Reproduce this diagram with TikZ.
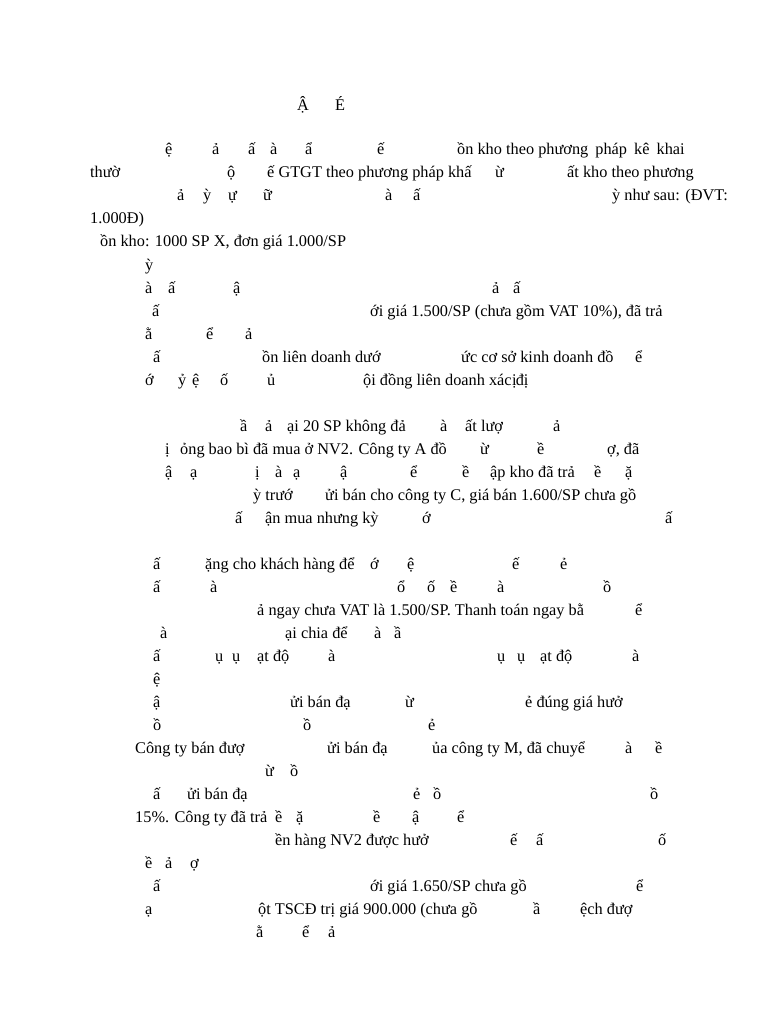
\documentclass[tikz,border=0pt]{standalone}
\usepackage{fontspec}
\setmainfont{Liberation Serif}
\newcommand{\tx}[3]{\node[anchor=base west,inner sep=0pt,font=\fontsize{16.3}{19}\selectfont] at (#1,#2+5) {#3};}
\begin{document}
\begin{tikzpicture}[x=1pt,y=-1pt]
\fill[white] (0,0) rectangle (768,1024);
\useasboundingbox (0,0) rectangle (768,1024);
\tx{297}{106}{Ậ}\tx{335}{106}{É}
\tx{165}{150}{ệ}\tx{212}{150}{ả}\tx{248}{150}{ấ}\tx{270}{150}{à}\tx{305}{150}{ẩ}\tx{377}{150}{ế}\tx{457}{150}{ồn kho theo phương\hspace{3pt} pháp\hspace{3pt} kê\hspace{3pt} khai}
\tx{90}{173}{thườ}\tx{227}{173}{ộ}\tx{267}{173}{ế GTGT theo phương pháp khấ}\tx{495}{173}{ừ}\tx{567}{173}{ất kho theo phương}
\tx{177}{196}{ả}\tx{203}{196}{ỳ}\tx{228}{196}{ự}\tx{263}{196}{ữ}\tx{385}{196}{à}\tx{413}{196}{ấ}\tx{612}{196}{ỳ như sau: (ĐVT:}
\tx{90}{219}{1.000Đ)}
\tx{100}{242}{ồn kho: 1000 SP X, đơn giá 1.000/SP}
\tx{145}{265}{ỳ}
\tx{145}{288}{à}\tx{168}{288}{ấ}\tx{233}{288}{ậ}\tx{492}{288}{ả}\tx{513}{288}{ấ}
\tx{152}{311}{ấ}\tx{370}{311}{ới giá 1.500/SP (chưa gồm VAT 10\%), đã trả}
\tx{145}{334}{ằ}\tx{206}{334}{ể}\tx{245}{334}{ả}
\tx{153}{357}{ấ}\tx{262}{357}{ồn liên doanh dướ}\tx{461}{357}{ức cơ sở kinh doanh đồ}\tx{635}{357}{ể}
\tx{145}{380}{ớ}\tx{178}{380}{ỷ}\tx{192}{380}{ệ}\tx{220}{380}{ố}\tx{267}{380}{ủ}\tx{363}{380}{ội đồng liên doanh xác đị}\tx{512}{380}{ị}
\tx{240}{426}{ầ}\tx{265}{426}{ả}\tx{287}{426}{ại 20 SP không đả}\tx{440}{426}{à}\tx{465}{426}{ất lượ}\tx{553}{426}{ả}
\tx{165}{449}{ị}\tx{180}{449}{ỏng bao bì đã mua ở NV2. Công ty A đồ}\tx{480}{449}{ừ}\tx{537}{449}{ề}\tx{607}{449}{ợ, đã}
\tx{165}{472}{ậ}\tx{190}{472}{ạ}\tx{255}{472}{ị}\tx{275}{472}{à}\tx{293}{472}{ạ}\tx{340}{472}{ậ}\tx{410}{472}{ể}\tx{462}{472}{ề}\tx{490}{472}{ập kho đã trả}\tx{594}{472}{ề}\tx{625}{472}{ặ}
\tx{253}{495}{ỳ trướ}\tx{325}{495}{ửi bán cho công ty C, giá bán 1.600/SP chưa gồ}
\tx{235}{518}{ấ}\tx{265}{518}{ận mua nhưng kỳ}\tx{422}{518}{ớ}\tx{665}{518}{ấ}
\tx{153}{564}{ấ}\tx{205}{564}{ặng cho khách hàng để}\tx{370}{564}{ớ}\tx{407}{564}{ệ}\tx{512}{564}{ế}\tx{560}{564}{ẻ}
\tx{153}{587}{ấ}\tx{210}{587}{à}\tx{397}{587}{ổ}\tx{427}{587}{ố}\tx{450}{587}{ề}\tx{497}{587}{à}\tx{603}{587}{ồ}
\tx{257}{610}{ả ngay chưa VAT là 1.500/SP. Thanh toán ngay bằ}\tx{635}{610}{ể}
\tx{160}{633}{à}\tx{285}{633}{ại chia để}\tx{374}{633}{à}\tx{394}{633}{ầ}
\tx{153}{656}{ấ}\tx{215}{656}{ụ}\tx{232}{656}{ụ}\tx{257}{656}{ạt độ}\tx{328}{656}{à}\tx{497}{656}{ụ}\tx{517}{656}{ụ}\tx{540}{656}{ạt độ}\tx{632}{656}{à}
\tx{153}{679}{ệ}
\tx{153}{702}{ậ}\tx{290}{702}{ửi bán đạ}\tx{405}{702}{ừ}\tx{525}{702}{ẻ đúng giá hưở}
\tx{153}{725}{ồ}\tx{303}{725}{ồ}\tx{428}{725}{ẻ}
\tx{135}{748}{Công ty bán đượ}\tx{327}{748}{ửi bán đạ}\tx{432}{748}{ủa công ty M, đã chuyể}\tx{625}{748}{à}\tx{655}{748}{ề}
\tx{265}{771}{ừ}\tx{290}{771}{ồ}
\tx{153}{794}{ấ}\tx{187}{794}{ửi bán đạ}\tx{413}{794}{ẻ}\tx{433}{794}{ồ}\tx{650}{794}{ồ}
\tx{135}{817}{15\%. Công ty đã trả}\tx{275}{817}{ề}\tx{296}{817}{ặ}\tx{373}{817}{ề}\tx{412}{817}{ậ}\tx{457}{817}{ể}
\tx{275}{840}{ền hàng NV2 được hưở}\tx{510}{840}{ế}\tx{536}{840}{ấ}\tx{658}{840}{ố}
\tx{145}{863}{ề}\tx{165}{863}{ả}\tx{190}{863}{ợ}
\tx{153}{886}{ấ}\tx{370}{886}{ới giá 1.650/SP chưa gồ}\tx{636}{886}{ể}
\tx{145}{909}{ạ}\tx{258}{909}{ột TSCĐ trị giá 900.000 (chưa gồ}\tx{533}{909}{ầ}\tx{580}{909}{ệch đượ}
\tx{256}{932}{ằ}\tx{302}{932}{ể}\tx{328}{932}{ả}
\end{tikzpicture}
\end{document}
